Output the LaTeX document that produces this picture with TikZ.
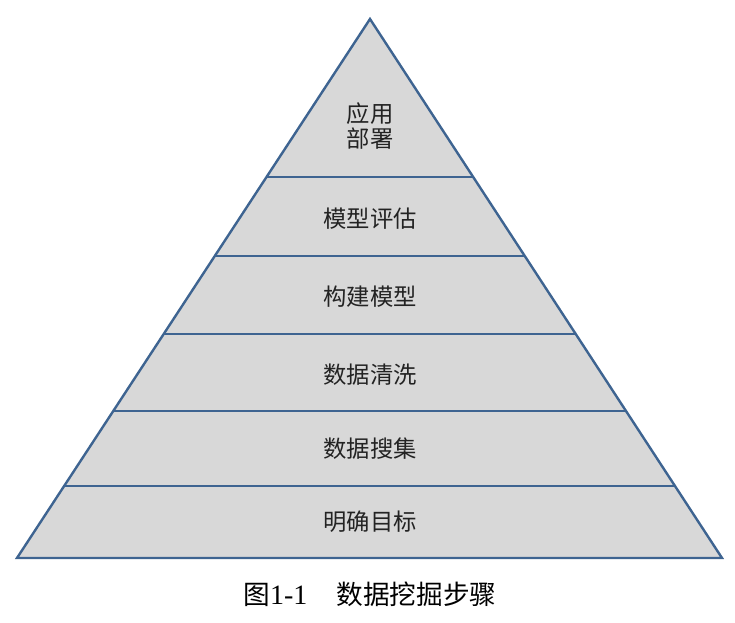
\documentclass[tikz,border=0pt]{standalone}
\usepackage{fontspec}
\setmainfont{Liberation Serif}
\newfontfamily\cjk{Noto Sans CJK SC}
\usetikzlibrary{calc,positioning}
\definecolor{edgeblue}{RGB}{62,100,145}
\definecolor{layergray}{RGB}{216,216,216}
\definecolor{textgray}{RGB}{35,35,35}
\tikzset{
  layerline/.style={edgeblue,line width=1.8pt},
  steplabel/.style={text=textgray,font=\cjk\fontsize{17.5}{21}\selectfont,align=center,inner sep=0pt}
}
\begin{document}
\begin{tikzpicture}[x=0.75pt,y=-0.75pt]
  \useasboundingbox (0,0) rectangle (735,623);
  \coordinate (apex) at (370,19);
  \coordinate (baseleft) at (17,558);
  \coordinate (baseright) at (722,558);
  \fill[layergray] (apex) -- (baseright) -- (baseleft) -- cycle;
  % layer boundaries
  \foreach \y/\name in {177/1,256/2,334/3,411/4,486/5}{
    \coordinate (left\name) at ($(apex)!{(\y-19)/539}!(baseleft)$);
    \coordinate (right\name) at ($(apex)!{(\y-19)/539}!(baseright)$);
    \draw[layerline] (left\name) -- (right\name);
  }
  \draw[layerline,line join=miter] (apex) -- (baseright) -- (baseleft) -- cycle;
  \node[steplabel] (deploy) at (370,126) {应用\\[-2pt]部署};
  \foreach \y/\name/\txt in {219/eval/模型评估,297/build/构建模型,375/clean/数据清洗,449/collect/数据搜集,522/goal/明确目标}{
    \node[steplabel] (\name) at (370,\y) {\txt};
  }
  \node[text=black,inner sep=0pt] (caption) at (370,594)
    {{\cjk\fontsize{20}{24}\selectfont 图}{\fontsize{21}{24}\selectfont 1-1}\hspace{22pt}{\cjk\fontsize{20}{24}\selectfont 数据挖掘步骤}};
\end{tikzpicture}
\end{document}
